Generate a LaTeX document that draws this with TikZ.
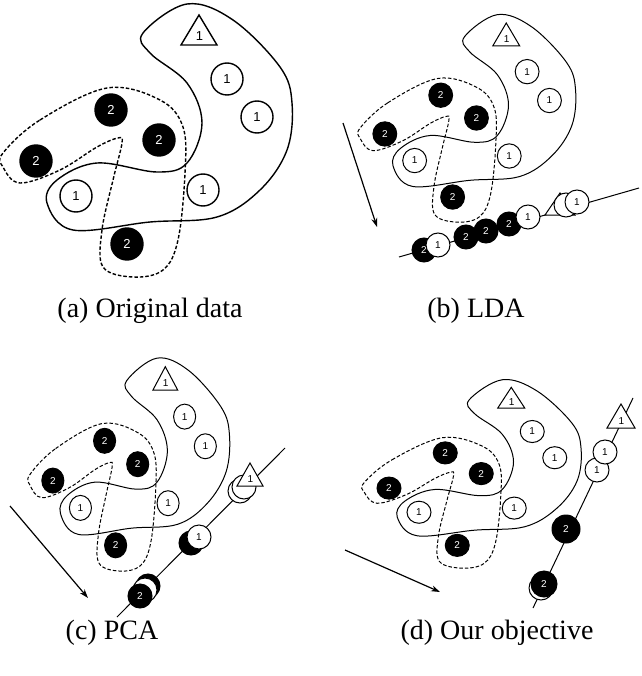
\documentclass[tikz,border=0pt]{standalone}
\usepackage{fontspec}
\usetikzlibrary{arrows.meta}
\setmainfont{Liberation Serif}
\newfontfamily\numfont{Liberation Sans}
\newcommand\labsz{12}
\begin{document}
\begin{tikzpicture}[x=1pt,y=-1pt,line width=1pt,
  lab/.style={font=\numfont\fontsize{\labsz}{\labsz}\selectfont,inner sep=0pt},
  captxt/.style={font=\fontsize{28}{32}\selectfont,inner sep=0pt},
  dsh/.style={dash pattern=on 3.5pt off 2pt},
  arr/.style={-{Stealth[length=9pt,width=6pt]},line width=1.2pt}]
\useasboundingbox (0,0) rectangle (641,676);
\newcommand\wpt[5]{\draw[fill=white] (#1,#2) circle (#3); \node[lab] (#5) at (#1,#2) {#4};}
\newcommand\bpt[5]{\draw[fill=black] (#1,#2) circle (#3); \node[lab,text=white] (#5) at (#1,#2) {#4};}
\newcommand\tri[5]{\draw[fill=white] (#1,#2) -- (#1-#3,#2+#4) -- (#1+#3,#2+#4) -- cycle; \node[lab] (#5) at (#1+0.5,#2+0.7*#4) {1};}
\newcommand\basefig[1]{%
  \draw plot[smooth cycle,tension=0.6] coordinates {(143,33) (187,4) (233,20) (280,67) (292,103) (287,150) (260,190) (217,217) (150,222) (73,230) (47,203) (57,180) (97,163) (157,172) (187,163) (202,123) (187,83) (150,53)};
  \draw[dsh] plot[smooth cycle,tension=0.6] coordinates {(3,153) (40,120) (107,88) (160,100) (183,127) (185,173) (178,240) (163,270) (133,277) (103,267) (102,230) (113,180) (122,143) (118,138) (97,147) (60,170) (20,183) (3,167)};
  \tri{199}{15}{18}{30}{#1t}
  \wpt{227}{79}{16}{1}{#1w1}
  \wpt{257}{117}{16}{1}{#1w2}
  \wpt{203}{190}{16}{1}{#1w3}
  \wpt{76}{196}{16}{1}{#1w4}
  \bpt{111}{110}{16}{2}{#1b1}
  \bpt{159}{140}{16}{2}{#1b2}
  \bpt{36}{161}{16}{2}{#1b3}
  \bpt{127}{244}{16}{2}{#1b4}
}
% (a)
\begin{scope}[line width=1.4pt]\renewcommand\labsz{13}\basefig{a}\end{scope}
\node[captxt] (capa) at (150,311) {(a) Original data};
\renewcommand\labsz{10}
% (b)
\begin{scope}[shift={(358,11.6)},xscale=.745,yscale=.76]\basefig{b}\end{scope}
\coordinate (ba1) at (343,123); \coordinate (ba2) at (377,227);
\draw[arr] (ba1) -- (ba2);
\coordinate (bl1) at (399,257); \coordinate (bl2) at (639,188);
\draw (bl1) -- (bl2);
\bpt{424}{250}{12}{2}{bp1}
\wpt{438}{245}{12}{1}{bp2}
\bpt{466}{237}{12}{2}{bp3}
\bpt{486}{231}{12}{2}{bp4}
\bpt{509}{224}{12}{2}{bp5}
\wpt{528}{217}{12}{1}{bp6}
\draw[fill=white] (560,193) -- (545,215) -- (575,215) -- cycle;
\wpt{566}{205}{12}{}{bp7}
\wpt{577}{202}{12}{1}{bp8}
\node[captxt] (capb) at (476,311) {(b) LDA};
% (c)
\begin{scope}[shift={(28,355)},xscale=.69,yscale=.78]\basefig{c}\end{scope}
\coordinate (ca1) at (10,506); \coordinate (ca2) at (88,598);
\draw[arr] (ca1) -- (ca2);
\coordinate (cl1) at (117,617); \coordinate (cl2) at (285,448);
\draw (cl1) -- (cl2);
\bpt{148}{586}{12}{}{cp1}
\wpt{145}{590}{12}{}{cp2}
\bpt{140}{596}{12}{2}{cp3}
\bpt{191}{543}{12}{}{cp4}
\wpt{199}{537}{12}{1}{cp5}
\wpt{240}{491}{12}{}{cp6}
\wpt{244}{487}{12}{}{cp7}
\tri{250}{463}{13}{23}{cp8}
\node[captxt] (capc) at (112,633) {(c) PCA};
% (d)
\begin{scope}[shift={(362,377)},xscale=.75,yscale=.69]\basefig{d}\end{scope}
\coordinate (da1) at (345,550); \coordinate (da2) at (440,592);
\draw[arr] (da1) -- (da2);
\coordinate (dl1) at (533,608); \coordinate (dl2) at (633,398);
\draw (dl1) -- (dl2);
\tri{621}{404}{14}{24}{dp1}
\wpt{597}{470}{12}{1}{dp2}
\wpt{605}{452}{12}{1}{dp3}
\bpt{566}{529}{14}{2}{dp4}
\wpt{541}{588}{12}{}{dp5}
\bpt{544}{584}{13}{2}{dp6}
\node[captxt] (capd) at (497,633) {(d) Our objective};
\end{tikzpicture}
\end{document}
